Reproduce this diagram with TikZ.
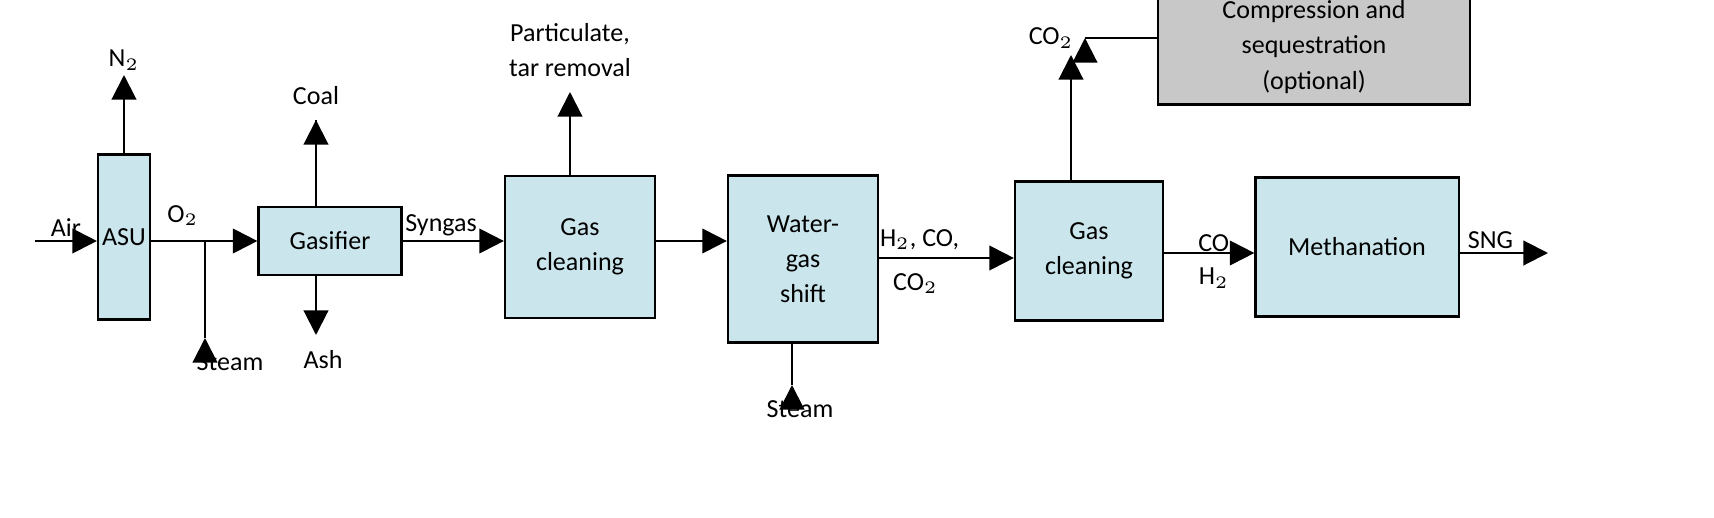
\documentclass[tikz,border=0pt]{standalone}
\usepackage{fontspec}
\setmainfont{Carlito}
\usetikzlibrary{arrows.meta}
\definecolor{unitblue}{RGB}{202,230,236}
\definecolor{storegray}{RGB}{200,200,200}
\tikzset{
    unit/.style={draw, line width=0.6pt, fill=unitblue, align=center, inner sep=0pt},
    flow/.style={line width=0.6pt, -{Triangle[length=7pt, width=7pt]}},
    lbl/.style={inner sep=1pt, align=center},
}
\begin{document}
\begin{tikzpicture}[x=0.01cm, y=-0.01cm, font=\fontsize{7.4}{10}\selectfont]
    \useasboundingbox (0, 0) rectangle (1714, 518);
        % process units
        \node[unit, minimum width=0.52cm, minimum height=1.65cm] (asu) at (124, 237) {ASU};
        \node[unit, minimum width=1.43cm, minimum height=0.68cm] (gasifier) at (330, 241) {Gasifier};
        \node[unit, minimum width=1.50cm, minimum height=1.42cm] (clean1) at (580, 247) {Gas\\cleaning};
        \node[unit, minimum width=1.50cm, minimum height=1.67cm] (shift) at (803, 259) {Water-\\gas\\shift};
        \node[unit, minimum width=1.48cm, minimum height=1.39cm] (clean2) at (1089, 251) {Gas\\cleaning};
        \node[unit, minimum width=2.03cm, minimum height=1.39cm] (meth) at (1357, 247) {Methanation};
        \node[unit, fill=storegray, minimum width=3.11cm, minimum height=1.15cm] (seq) at (1314, 47) {Compression and\\sequestration\\(optional)};
        % free ends
        \coordinate (air) at (35, 241);
        \coordinate (n2) at (124, 75);
        \coordinate (steamA) at (205, 338);
        \coordinate (coal) at (316, 120);
        \coordinate (ash) at (316, 335);
        \coordinate (tar) at (570, 92);
        \coordinate (steamB) at (792, 385);
        \coordinate (co2up) at (1071, 55);
        \coordinate (co2) at (1085, 38);
        \coordinate (sng) at (1548, 253);
        % streams
        \draw[flow] (air) -- (asu.west |- air) node[lbl, midway, above] {Air};
        \draw[flow] (asu.north) -- (n2) node[lbl, above] {N$_2$};
        \draw[flow] (asu.east |- gasifier.west) -- (gasifier.west) node[lbl, pos=0.3, above=3pt] {O$_2$};
        \draw[flow] (steamA) -- (steamA |- gasifier.west) (steamA) node[lbl, below=3pt, xshift=0.25cm] {Steam};
        \draw[flow] (coal) -- (coal |- gasifier.north) (coal) node[lbl, above=3pt] {Coal};
        \draw[flow] (ash |- gasifier.south) -- (ash) node[lbl, below=3pt, xshift=0.07cm] {Ash};
        \draw[flow] (gasifier.east) -- (clean1.west |- gasifier.east) node[lbl, pos=0.38, above] {Syngas};
        \draw[flow] (tar |- clean1.north) -- (tar) node[lbl, above=3pt] {Particulate,\\tar removal};
        \draw[flow] (clean1.east |- gasifier.east) -- (shift.west |- gasifier.east);
        \draw[flow] (steamB) -- (steamB |- shift.south) (steamB) node[lbl, below=3pt, xshift=0.08cm] {Steam};
        \draw[flow] (shift.east) ++(0, -1) coordinate (s1) (s1) -- (clean2.west |- s1)
            node[lbl, pos=0.3, above=1pt] {H$_2$, CO,} node[lbl, pos=0.27, below=3pt] {CO$_2$};
        \draw[flow] (co2up |- clean2.north) -- (co2up);
        \draw[flow] (co2) -- (seq.west |- co2) (co2) node[lbl, left=2pt] {CO$_2$};
        \draw[flow] (clean2.east |- meth.east) ++(0, 6) coordinate (c1) (c1) -- (meth.west |- c1)
            node[lbl, pos=0.55, above=-1pt] {CO} node[lbl, pos=0.55, below=3pt] {H$_2$};
        \draw[flow] (meth.east |- sng) -- (sng) node[lbl, pos=0.35, above] {SNG};
    \end{tikzpicture}
\end{document}
